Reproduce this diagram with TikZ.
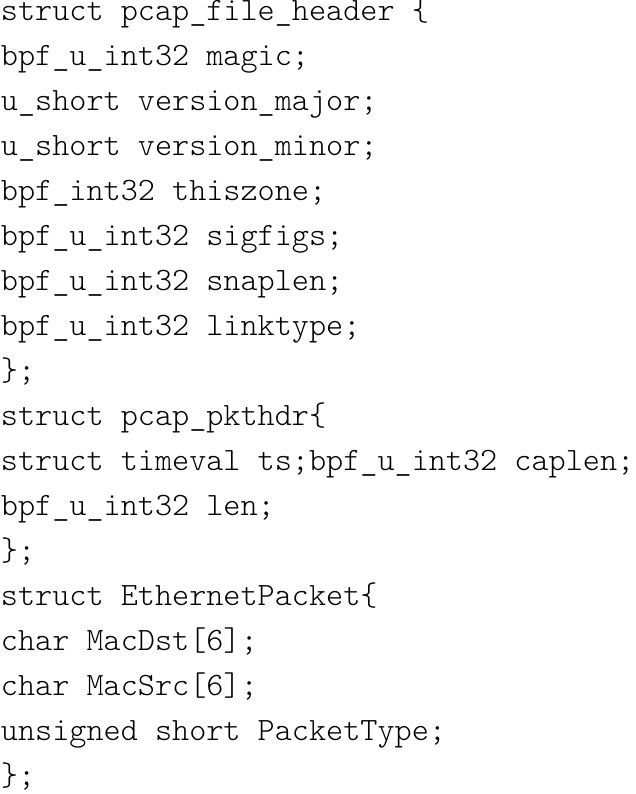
\documentclass[tikz,border=0pt]{standalone}
\usepackage{fontspec}
\setmonofont{Latin Modern Mono Light}
\usepackage{tikz}

\begin{document}
\begin{tikzpicture}[x=1pt,y=1pt]
	\tikzstyle{every node}=[anchor=base west,inner sep=0pt,outer sep=0pt,
		font=\ttfamily\fontsize{32.6}{38}\selectfont]
	\useasboundingbox (0,0) rectangle (636,794);

	\begin{scope}[xshift=1pt]
		% pcap file header
		\node (h1) at (0,773.5) {struct pcap\_file\_header \{};
		\node (h2) at (0,728.5) {bpf\_u\_int32 magic;};
		\node (h3) at (0,683.5) {u\_short version\_major;};
		\node (h4) at (0,638.5) {u\_short version\_minor;};
		\node (h5) at (0,593.5) {bpf\_int32 thiszone;};
		\node (h6) at (0,548.5) {bpf\_u\_int32 sigfigs;};
		\node (h7) at (0,503.5) {bpf\_u\_int32 snaplen;};
		\node (h8) at (0,458.5) {bpf\_u\_int32 linktype;};
		\node (h9) at (0,413.5) {\};};
		% packet header
		\node (p1) at (0,368.5) {struct pcap\_pkthdr\{};
		\node (p2) at (0,323.5) {struct timeval ts;bpf\_u\_int32 caplen;};
		\node (p3) at (0,278.5) {bpf\_u\_int32 len;};
		\node (p4) at (0,233.5) {\};};
		% ethernet packet
		\node (e1) at (0,188.5) {struct EthernetPacket\{};
		\node (e2) at (0,143.5) {char MacDst[6];};
		\node (e3) at (0,98.5) {char MacSrc[6];};
		\node (e4) at (0,53.5) {unsigned short PacketType;};
		\node (e5) at (0,8.5) {\};};
	\end{scope}

\end{tikzpicture}
\end{document}
